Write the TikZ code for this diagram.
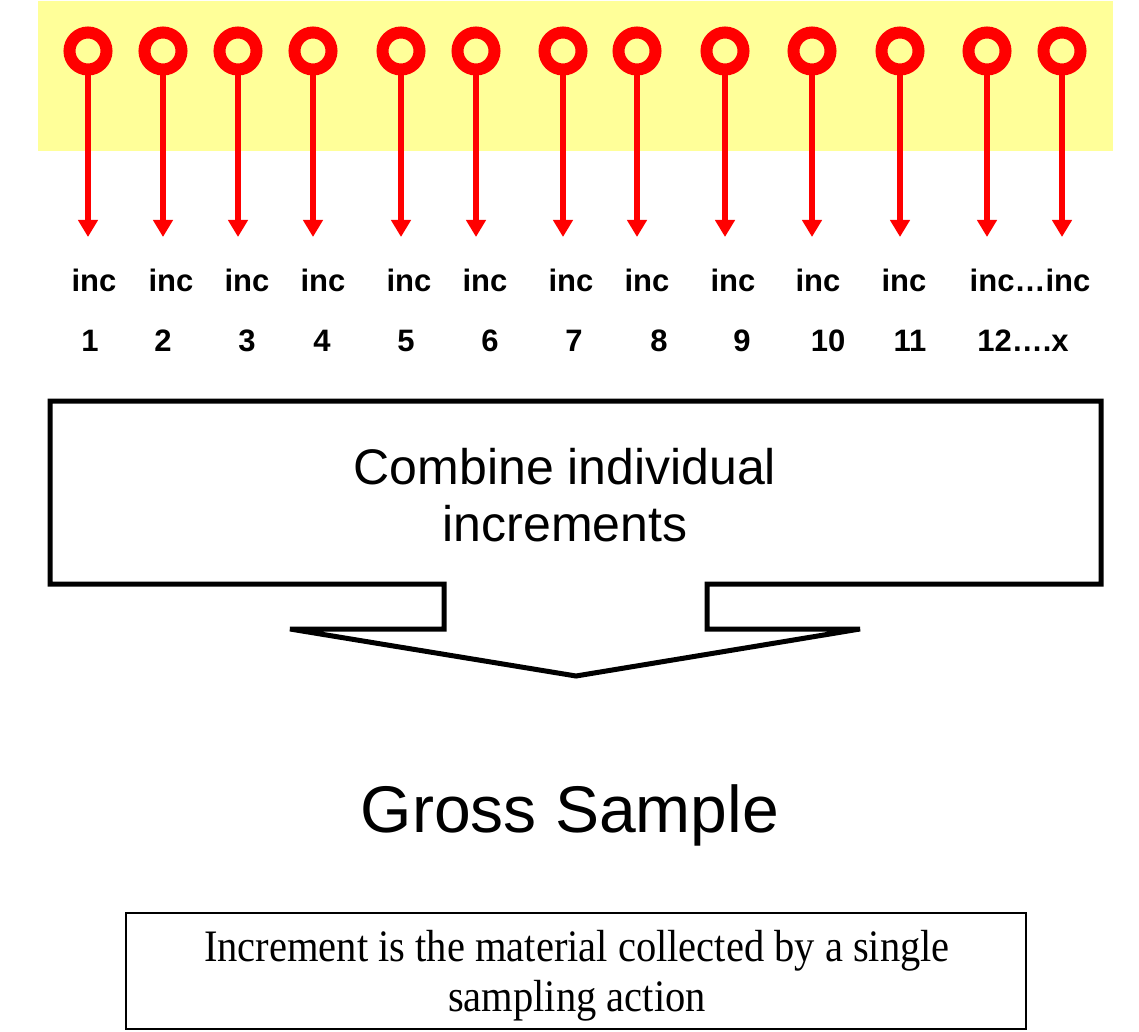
\documentclass[tikz,border=0pt]{standalone}
\usepackage{fontspec}
\setmainfont{Liberation Serif}
\newfontfamily\arial{Liberation Sans}
\newfontfamily\narrowserif[FakeStretch=0.9]{Liberation Serif}
\usetikzlibrary{arrows.meta}
\definecolor{padyellow}{HTML}{FFFF99}
\definecolor{incred}{HTML}{FF0000}
\begin{document}
\begin{tikzpicture}[x=1pt,y=-1pt,
  ring/.style={circle,draw=incred,line width=12pt,minimum size=37pt,inner sep=0pt},
  drop/.style={draw=incred,line width=6pt,-{Triangle[width=19pt,length=17pt]}},
  inclabel/.style={font=\arial\bfseries\fontsize{31}{36}\selectfont,inner sep=0pt,anchor=base},
  callout/.style={draw=black,line width=5pt,line join=miter},
  bigtext/.style={font=\arial\fontsize{50}{57}\selectfont,align=center,inner sep=0pt},
  grosstext/.style={font=\arial\fontsize{66}{72}\selectfont,inner sep=0pt},
  notebox/.style={draw=black,line width=2pt,minimum width=900pt,minimum height=116pt,inner sep=0pt},
  notetext/.style={font=\narrowserif\fontsize{45}{50}\selectfont,align=center,inner sep=0pt}]
\useasboundingbox (0,0) rectangle (1139,1032);
\fill[padyellow] (38,1) rectangle (1113,151);
\foreach \i/\x in {1/88,2/163,3/238,4/313,5/401,6/476,7/563,8/637,9/725,10/812,11/900,12/987,13/1062} {
  \node[ring] (r\i) at (\x,51) {};
  \coordinate (e\i) at (\x,237);
  \draw[drop] (r\i.south) -- (e\i);
}
\foreach \i/\x in {1/94,2/171,3/247,4/323,5/409,6/485,7/571,8/647,9/733,10/818,11/904} {
  \node[inclabel] (inc\i) at (\x,291) {inc};
}
\node[inclabel] (inc12) at (1030,291) {inc…inc};
\foreach \i/\x/\t in {1/90/1,2/163/2,3/247/3,4/322/4,5/406/5,6/490/6,7/574/7,8/659/8,9/742/9,10/828/10,11/910/11} {
  \node[inclabel] (n\i) at (\x,351) {\t};
}
\node[inclabel] (n12) at (1023,351) {12….x};
\draw[callout] (50,401) -- (1101,401) -- (1101,584) -- (707,584) -- (707,629) -- (860,629)
  -- (576,676) -- (290,629) -- (444,629) -- (444,584) -- (50,584) -- cycle;
\node[bigtext] (combine) at (565,495) {Combine individual\\increments};
\node[grosstext] (gross) at (570,815) {Gross Sample};
\node[notebox] (note) at (576,971) {};
\node[notetext] (notetxt) at (577,976) {Increment is the material collected by a single\\sampling action};
\end{tikzpicture}
\end{document}
